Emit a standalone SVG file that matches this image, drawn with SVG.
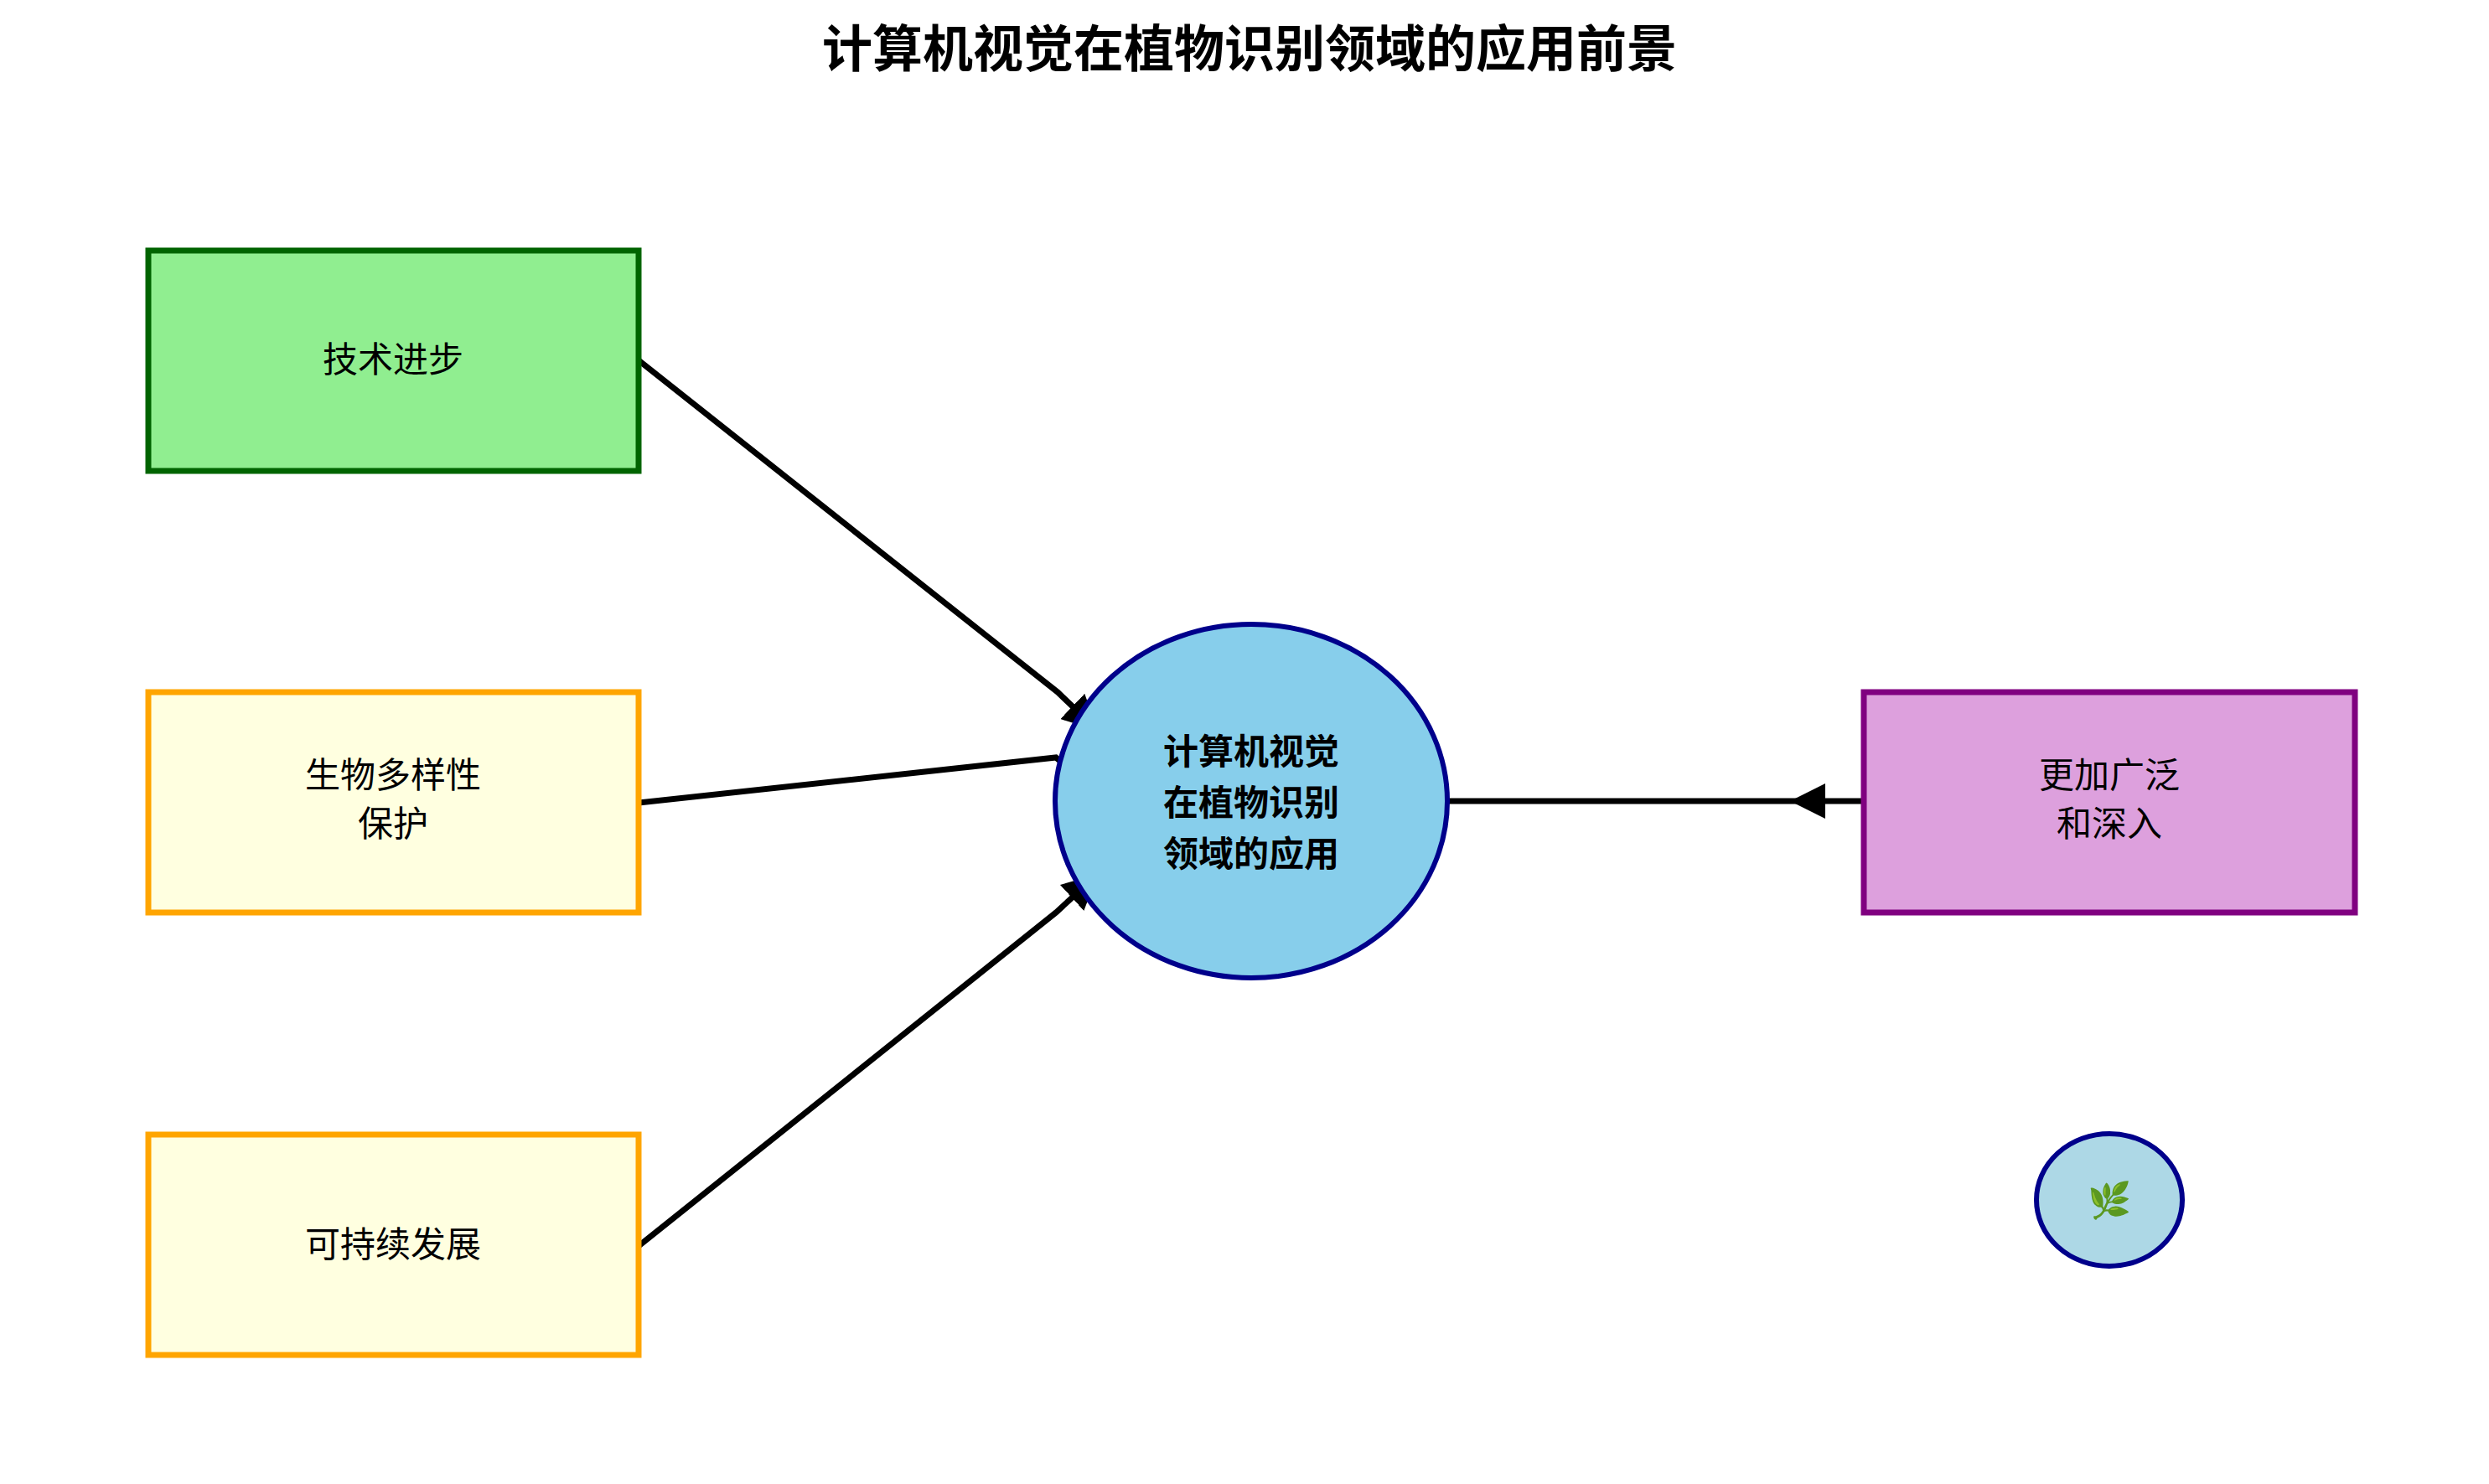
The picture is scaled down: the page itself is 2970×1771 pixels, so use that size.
<svg xmlns="http://www.w3.org/2000/svg" width="2970" height="1771" viewBox="0 0 2970 1771">
<style>
text{font-family:"Noto Sans CJK SC","Noto Sans",sans-serif;text-anchor:middle;fill:#000}
.t{font-size:42px}
.b{font-size:42px;font-weight:bold}
.c{fill:none;stroke:#000;stroke-width:7}
</style>
<defs>
<marker id="a" viewBox="0 0 10 10" refX="10" refY="5" markerWidth="6" markerHeight="6" markerUnits="strokeWidth" orient="auto"><path d="M0,0L10,5L0,10z" fill="#000"/></marker>
</defs>
<rect width="2970" height="1771" fill="#fff"/>
<text x="1491" y="80" style="font-size:60px;font-weight:bold">计算机视觉在植物识别领域的应用前景</text>
<g id="connectors">
<path class="c" d="M762,430L1262,826L1310,872" marker-end="url(#a)"/>
<path class="c" d="M762,958L1260,904L1310,946" marker-end="url(#a)"/>
<path class="c" d="M762,1487L1260,1089L1310,1043" marker-end="url(#a)"/>
<path class="c" d="M2224,956L2136,956L1727,956" marker-mid="url(#a)"/>
</g>
<g id="tech"><rect x="177" y="299" width="585" height="263" fill="#90ee90" stroke="#006400" stroke-width="7"/><text class="t" x="469" y="444">技术进步</text></g>
<g id="bio"><rect x="177" y="826" width="585" height="263" fill="#ffffe0" stroke="#ffa500" stroke-width="7"/><text class="t" x="469" y="940">生物多样性</text><text class="t" x="469" y="998">保护</text></g>
<g id="sus"><rect x="177" y="1354" width="585" height="263" fill="#ffffe0" stroke="#ffa500" stroke-width="7"/><text class="t" x="469" y="1500">可持续发展</text></g>
<g id="center"><ellipse cx="1493" cy="956" rx="234" ry="211" fill="#87ceeb" stroke="#00008b" stroke-width="6"/><text class="b" x="1493" y="912">计算机视觉</text><text class="b" x="1493" y="973">在植物识别</text><text class="b" x="1493" y="1034">领域的应用</text></g>
<g id="wide"><rect x="2224" y="826" width="586" height="263" fill="#dda0dd" stroke="#800080" stroke-width="7"/><text class="t" x="2517" y="940">更加广泛</text><text class="t" x="2517" y="998">和深入</text></g>
<g id="icon"><ellipse cx="2517" cy="1432" rx="87" ry="79" fill="#add8e6" stroke="#00008b" stroke-width="6"/><text class="t" x="2517" y="1447">🌿</text></g>
</svg>
